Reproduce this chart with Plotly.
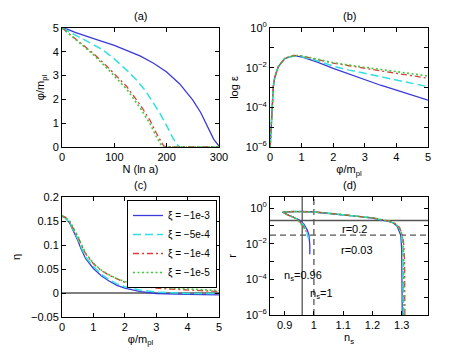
import plotly.graph_objects as go

# ---------------- data ----------------
series_names = ["ξ = −1e-3", "ξ = −5e-4", "ξ = −1e-4", "ξ = −1e-5"]
colors = ["#3a3ad8", "#2fe0e0", "#e03a3a", "#3ccc3c"]
dashes = ["solid", "8px,4px", "6px,3px,2px,3px", "2px,2.5px"]
widths = [1.3, 1.5, 1.3, 1.6]

# (a) phi/m_pl vs N
a_N = [
    [0, 10, 25, 50, 75, 100, 125, 150, 175, 200, 225, 250, 265, 280, 290, 300],
    [0, 25, 50, 78, 100, 125, 143, 160, 175, 187, 200, 212, 220, 225, 300],
    [0, 25, 59, 90, 124, 150, 168, 180, 194, 200, 300],
    [0, 25, 59, 90, 124, 150, 168, 180, 190, 195, 300],
]
a_phi = [
    [5, 4.95, 4.82, 4.62, 4.45, 4.27, 4.06, 3.82, 3.52, 3.15, 2.65, 1.97, 1.45, 0.75, 0.32, 0.04],
    [5, 4.72, 4.42, 4.08, 3.7, 3.2, 2.8, 2.35, 1.85, 1.42, 0.9, 0.37, 0.1, 0, 0],
    [5, 4.55, 3.95, 3.3, 2.53, 1.75, 1.13, 0.6, 0.05, 0, 0],
    [5, 4.52, 3.9, 3.22, 2.42, 1.62, 0.98, 0.45, 0.05, 0, 0],
]

# (b) epsilon vs phi/m_pl
b_phi = [0.005, 0.03, 0.054, 0.08, 0.105, 0.15, 0.26, 0.47, 0.75, 1.0,
         1.5, 2.0, 2.5, 3.0, 3.5, 4.0, 4.5, 5.0]
b_eps = [
    [1e-6, 5e-6, 2.3e-5, 2.5e-4, 1.1e-3, 3.2e-3, 1.1e-2, 2.9e-2, 3.9e-2, 3.5e-2,
     1.9e-2, 9.3e-3, 4.7e-3, 2.4e-3, 1.3e-3, 7.4e-4, 4.2e-4, 2.3e-4],
    [1e-6, 5e-6, 2.3e-5, 2.5e-4, 1.1e-3, 3.2e-3, 1.1e-2, 2.9e-2, 3.9e-2, 3.6e-2,
     2.2e-2, 1.2e-2, 7.5e-3, 5.2e-3, 3.5e-3, 2.4e-3, 1.6e-3, 1.1e-3],
    [1e-6, 5e-6, 2.3e-5, 2.5e-4, 1.1e-3, 3.2e-3, 1.1e-2, 3.0e-2, 4.1e-2, 3.9e-2,
     2.6e-2, 1.7e-2, 1.25e-2, 9.3e-3, 7.0e-3, 5.2e-3, 3.9e-3, 2.9e-3],
    [1e-6, 5e-6, 2.3e-5, 2.5e-4, 1.1e-3, 3.2e-3, 1.1e-2, 3.0e-2, 4.2e-2, 4.0e-2,
     2.7e-2, 1.8e-2, 1.35e-2, 1.05e-2, 8.0e-3, 6.3e-3, 4.9e-3, 3.8e-3],
]

# (c) eta vs phi/m_pl
c_phi = [0, 0.1, 0.25, 0.4, 0.5, 0.6, 0.75, 1.0, 1.25, 1.5, 1.75, 2.0,
         2.5, 3.0, 3.5, 4.0, 4.5, 5.0]
c_eta = [
    [0.160, 0.157, 0.145, 0.125, 0.110, 0.093, 0.072, 0.051, 0.036, 0.025, 0.016, 0.010,
     0.003, -0.001, -0.0025, -0.003, -0.0035, -0.004],
    [0.160, 0.157, 0.146, 0.127, 0.113, 0.097, 0.075, 0.055, 0.039, 0.028, 0.019, 0.013,
     0.006, 0.002, 0.0, -0.001, -0.001, -0.001],
    [0.160, 0.158, 0.148, 0.131, 0.118, 0.103, 0.082, 0.061, 0.047, 0.037, 0.029, 0.022,
     0.015, 0.010, 0.008, 0.006, 0.004, 0.003],
    [0.161, 0.158, 0.149, 0.132, 0.119, 0.104, 0.083, 0.062, 0.048, 0.038, 0.030, 0.024,
     0.017, 0.012, 0.010, 0.008, 0.006, 0.005],
]

# (d) r vs n_s
d_ns = [
    [1.302, 1.302, 1.302, 1.301, 1.300, 1.297, 1.290, 1.285, 1.272, 1.255, 1.227, 1.20,
     1.15, 1.10, 1.05, 1.00, 0.96, 0.93, 0.91, 0.893,
     0.915, 0.933, 0.949, 0.966, 0.977, 0.983, 0.986, 0.986],
    [1.306, 1.306, 1.306, 1.305, 1.303, 1.300, 1.291, 1.275, 1.255, 1.227, 1.20,
     1.15, 1.10, 1.05, 1.00, 0.96, 0.93, 0.91, 0.893,
     0.913, 0.931, 0.948, 0.963, 0.973, 0.979, 0.982],
    [1.311, 1.311, 1.311, 1.310, 1.307, 1.303, 1.293, 1.277, 1.257, 1.229, 1.20,
     1.15, 1.10, 1.05, 1.00, 0.96, 0.93, 0.91, 0.893,
     0.912, 0.930, 0.946, 0.960, 0.970, 0.974],
    [1.308, 1.308, 1.308, 1.307, 1.305, 1.302, 1.292, 1.276, 1.256, 1.228, 1.20,
     1.15, 1.10, 1.05, 1.00, 0.96, 0.93, 0.91, 0.893,
     0.911, 0.929, 0.945, 0.958, 0.966, 0.969],
]
d_r = [
    [1e-6, 1e-5, 1e-4, 1e-3, 5e-3, 0.03, 0.07, 0.093, 0.145, 0.18, 0.22, 0.275,
     0.34, 0.42, 0.5, 0.6, 0.65, 0.64, 0.61, 0.59,
     0.39, 0.30, 0.22, 0.126, 0.06, 0.032, 0.0087, 0.0026],
    [1e-6, 1e-5, 1e-4, 1e-3, 0.01, 0.03, 0.08, 0.14, 0.185, 0.225, 0.28,
     0.345, 0.43, 0.51, 0.6, 0.65, 0.64, 0.61, 0.59,
     0.39, 0.30, 0.21, 0.12, 0.06, 0.03, 0.018],
    [1e-6, 1e-5, 1e-4, 1e-3, 0.01, 0.03, 0.08, 0.14, 0.185, 0.225, 0.28,
     0.345, 0.43, 0.51, 0.6, 0.65, 0.64, 0.61, 0.59,
     0.40, 0.31, 0.21, 0.12, 0.07, 0.047],
    [1e-6, 1e-5, 1e-4, 1e-3, 0.01, 0.03, 0.08, 0.14, 0.185, 0.225, 0.28,
     0.345, 0.43, 0.51, 0.6, 0.65, 0.64, 0.61, 0.59,
     0.40, 0.31, 0.21, 0.12, 0.08, 0.06],
]

# reference lines in (d)
ns_obs = 0.96
ns_one = 1.0
r_high = 0.2
r_low = 0.03
d_xrange = [0.85, 1.39]

# ---------------- figure ----------------
FONT = "Liberation Sans, Arial, sans-serif"
fig = go.Figure()

for i in range(4):
    line = dict(color=colors[i], dash=dashes[i], width=widths[i])
    fig.add_trace(go.Scatter(x=a_N[i], y=a_phi[i], mode="lines", line=line,
                             xaxis="x", yaxis="y", showlegend=False))
    fig.add_trace(go.Scatter(x=b_phi, y=b_eps[i], mode="lines", line=line,
                             xaxis="x2", yaxis="y2", showlegend=False))
    fig.add_trace(go.Scatter(x=c_phi, y=c_eta[i], mode="lines", line=line,
                             xaxis="x3", yaxis="y3", name=series_names[i], showlegend=True))

# reference lines in (d)
ref_col = "#555555"
fig.add_trace(go.Scatter(x=[ns_obs, ns_obs], y=[1e-6, 10], mode="lines",
                         line=dict(color=ref_col, width=1.3), xaxis="x4", yaxis="y4", showlegend=False))
fig.add_trace(go.Scatter(x=[ns_one, ns_one], y=[1e-6, 10], mode="lines",
                         line=dict(color=ref_col, width=1.3, dash="6px,4px"), xaxis="x4", yaxis="y4", showlegend=False))
fig.add_trace(go.Scatter(x=d_xrange, y=[r_high, r_high], mode="lines",
                         line=dict(color=ref_col, width=1.3), xaxis="x4", yaxis="y4", showlegend=False))
fig.add_trace(go.Scatter(x=d_xrange, y=[r_low, r_low], mode="lines",
                         line=dict(color=ref_col, width=1.3, dash="6px,4px"), xaxis="x4", yaxis="y4", showlegend=False))

for i in range(4):
    line = dict(color=colors[i], dash=dashes[i], width=widths[i])
    fig.add_trace(go.Scatter(x=d_ns[i], y=d_r[i], mode="lines", line=line,
                             xaxis="x4", yaxis="y4", showlegend=False))

# the page body has an 8px margin, so the figure is placed at (8, 8) on the page
OFF = 8
W, H = 474 - OFF, 355 - 2 * OFF
def xd(l, r):
    return [(l - OFF) / W, (r - OFF) / W]
def yd(t, b):
    return [1 - (b - OFF) / H, 1 - (t - OFF) / H]
def px(p):
    return (p - OFF) / W
def py(p):
    return 1 - (p - OFF) / H

axcommon = dict(showline=True, linecolor="black", linewidth=1, mirror="ticks",
                ticks="inside", ticklen=4, tickcolor="black", showgrid=False,
                zeroline=False, automargin=False,
                tickfont=dict(family=FONT, size=11, color="black"),
                title_font=dict(family=FONT, size=11, color="black"))

decades = [1e-6, 1e-5, 1e-4, 1e-3, 1e-2, 1e-1, 1e0]
dec_text = ["10<sup>−6</sup>", "", "10<sup>−4</sup>", "", "10<sup>−2</sup>", "", "10<sup>0</sup>"]

fig.update_layout(
    template="none",
    width=W, height=H, margin=dict(l=0, r=0, t=0, b=0, autoexpand=False),
    paper_bgcolor="white", plot_bgcolor="white",
    font=dict(family=FONT, size=11, color="black"),
    xaxis=dict(axcommon, domain=xd(62, 219), anchor="y", range=[0, 300],
               tickvals=[0, 100, 200, 300],
               title=dict(text="N (ln a)", standoff=2)),
    yaxis=dict(axcommon, domain=yd(28, 147), anchor="x", range=[0, 5], dtick=1,
               title=dict(text="φ/m<sub>pl</sub>", standoff=5)),
    xaxis2=dict(axcommon, domain=xd(270, 428), anchor="y2", range=[0, 5], dtick=1,
                title=dict(text="φ/m<sub>pl</sub>", standoff=2)),
    yaxis2=dict(axcommon, domain=yd(28, 147), anchor="x2", type="log", range=[-6, 0],
                tickmode="array", tickvals=decades, ticktext=dec_text,
                title=dict(text="log ε", standoff=4)),
    xaxis3=dict(axcommon, domain=xd(62, 219), anchor="y3", range=[0, 5], dtick=1,
                title=dict(text="φ/m<sub>pl</sub>", standoff=2)),
    yaxis3=dict(axcommon, domain=yd(197, 317), anchor="x3", range=[-0.05, 0.2], dtick=0.05,
                zeroline=True, zerolinecolor="#808080", zerolinewidth=2,
                title=dict(text="η", standoff=8)),
    xaxis4=dict(axcommon, domain=xd(270, 428), anchor="y4", range=d_xrange,
                tickvals=[0.9, 1.0, 1.1, 1.2, 1.3], ticktext=["0.9", "1", "1.1", "1.2", "1.3"],
                title=dict(text="n<sub>s</sub>", standoff=2)),
    yaxis4=dict(axcommon, domain=yd(197, 315), anchor="x4", type="log", range=[-6, 0.62],
                tickmode="array", tickvals=decades, ticktext=dec_text,
                title=dict(text="r", standoff=6)),
    legend=dict(x=px(217), xanchor="right", y=py(200), yanchor="top",
                bgcolor="white", bordercolor="black", borderwidth=1,
                font=dict(family=FONT, size=10, color="black"),
                itemwidth=30, tracegroupgap=0),
)

panel_titles = [("(a)", 140.5, 16.5), ("(b)", 349, 16.5), ("(c)", 140.5, 185), ("(d)", 349, 185)]
for txt, tx, ty in panel_titles:
    fig.add_annotation(text=txt, x=px(tx), y=py(ty), xref="paper", yref="paper",
                       showarrow=False, xanchor="center", yanchor="middle",
                       font=dict(family=FONT, size=11, color="black"))

d_labels = [("r=0.2", 0.536, 0.726), ("r=0.03", 0.55, 0.55),
            ("n<sub>s</sub>=0.96", 0.209, 0.33), ("n<sub>s</sub>=1", 0.323, 0.178)]
for txt, fx, fy in d_labels:
    fig.add_annotation(text=txt, x=fx, y=fy, xref="x4 domain", yref="y4 domain",
                       showarrow=False, xanchor="center", yanchor="middle",
                       font=dict(family=FONT, size=11, color="black"))

fig.write_html("out.html")
